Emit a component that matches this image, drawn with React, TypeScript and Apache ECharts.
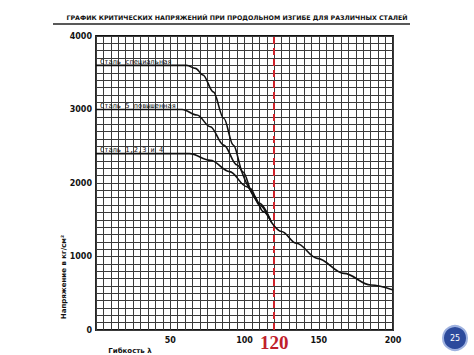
import React, { useEffect, useRef } from "react";
import * as echarts from "echarts";

const titleText = "ГРАФИК КРИТИЧЕСКИХ НАПРЯЖЕНИЙ ПРИ ПРОДОЛЬНОМ ИЗГИБЕ ДЛЯ РАЗЛИЧНЫХ СТАЛЕЙ";
const seriesNames = ["Сталь специальная", "Сталь 5 повышенная", "Сталь 1,2,3 и 4"];

const specialLambda = [0, 61, 67, 72, 79, 86, 92.5, 99, 106, 112.7, 118];
const specialSigma = [3600, 3600, 3560, 3470, 3240, 2880, 2515, 2150, 1835, 1610, 1470];

const steel5Lambda = [0, 58, 68, 77, 86, 95, 104, 110, 118];
const steel5Sigma = [3000, 3000, 2925, 2765, 2515, 2245, 1925, 1700, 1470];

const steel1234Lambda = [0, 63, 77, 90, 101.5, 110, 118];
const steel1234Sigma = [2400, 2400, 2310, 2155, 1950, 1725, 1470];

const tailLambda = [118, 125, 135, 149, 167, 185, 200];
const tailSigma = [1470, 1340, 1180, 975, 770, 612, 544];

const markedLambda = 120;
const xLabelValues = [50, 100, 150, 200];
const yLabelValues = [0, 1000, 2000, 3000, 4000];
const pageNumber = "25";

const zip = (a: number[], b: number[]) => a.map((v, i) => [v, b[i]]);

export default function App() {
  const ref = useRef<HTMLDivElement>(null);
  useEffect(() => {
    if (!ref.current) return;
    const chart = echarts.init(ref.current, undefined, { renderer: "svg" });
    const lineStyle = { color: "#111", width: 1.6 };
    const curves = [
      zip(specialLambda, specialSigma),
      zip(steel5Lambda, steel5Sigma),
      zip(steel1234Lambda, steel1234Sigma),
    ];
    const series: any[] = curves.map((d, i) => ({
      name: seriesNames[i],
      type: "line",
      data: d,
      smooth: 0.35,
      smoothMonotone: "x",
      showSymbol: false,
      symbol: "none",
      lineStyle,
      z: 5,
    }));
    series.push({
      name: "tail",
      type: "line",
      data: zip(tailLambda, tailSigma),
      smooth: 0.35,
      smoothMonotone: "x",
      symbol: "none",
      lineStyle,
      z: 5,
      markLine: {
        silent: true,
        symbol: "none",
        lineStyle: { color: "#d0222a", width: 2, type: [7, 4] },
        label: {
          show: true,
          position: "start",
          formatter: String(markedLambda),
          color: "#c0202a",
          fontSize: 19,
          fontWeight: "bold",
          fontFamily: "Liberation Serif",
          distance: 3,
        },
        data: [{ xAxis: markedLambda }],
      },
    });
    const labelTexts = seriesNames.map((n, i) => ({
      type: "text",
      left: 100,
      top: [58, 102, 146][i],
      z: 10,
      style: {
        text: n,
        fill: "#111",
        font: "7px 'DejaVu Sans Mono'",
      },
    }));
    chart.setOption({
      animation: false,
      backgroundColor: "#ffffff",
      title: {
        text: titleText,
        left: "center",
        top: 9,
        textStyle: {
          fontSize: 6.3,
          fontWeight: "bold",
          fontFamily: "DejaVu Sans",
          color: "#111",
        },
      },
      grid: {
        left: 96,
        right: 81,
        top: 36,
        bottom: 25,
        show: true,
        borderColor: "#111",
        borderWidth: 1.8,
        backgroundColor: "transparent",
      },
      xAxis: {
        type: "value",
        min: 0,
        max: 200,
        interval: 5,
        axisLine: { show: false },
        axisTick: { show: false },
        splitLine: { show: true, lineStyle: { color: "#3a3a3a", width: 1 } },
        axisLabel: {
          color: "#111",
          fontSize: 8,
          fontWeight: "bold",
          fontFamily: "DejaVu Sans",
          margin: 6,
          formatter: (v: number) => (xLabelValues.includes(v) ? String(v) : ""),
        },
      },
      yAxis: {
        type: "value",
        min: 0,
        max: 4000,
        interval: 100,
        axisLine: { show: false },
        axisTick: { show: false },
        splitLine: { show: true, lineStyle: { color: "#3a3a3a", width: 1 } },
        axisLabel: {
          color: "#111",
          fontSize: 8,
          fontWeight: "bold",
          fontFamily: "DejaVu Sans",
          margin: 4,
          formatter: (v: number) => (yLabelValues.includes(v) ? String(v) : ""),
        },
      },
      series,
      graphic: [
        {
          type: "line",
          shape: { x1: 53, y1: 24, x2: 410, y2: 24 },
          style: { stroke: "#222", lineWidth: 1.5 },
        },
        ...labelTexts,
        {
          type: "text",
          x: 64,
          y: 277,
          rotation: Math.PI / 2,
          style: {
            text: "Напряжение в кг/см²",
            fill: "#111",
            font: "bold 7px 'DejaVu Sans'",
            align: "center",
            verticalAlign: "middle",
          },
        },
        {
          type: "text",
          x: 130,
          y: 351,
          style: {
            text: "Гибкость λ",
            fill: "#111",
            font: "bold 7px 'DejaVu Sans'",
            align: "center",
            verticalAlign: "middle",
          },
        },
        {
          type: "circle",
          shape: { cx: 455, cy: 338, r: 12 },
          style: { fill: "#2c4a9c", stroke: "#9fb2e0", lineWidth: 2 },
        },
        {
          type: "text",
          x: 455,
          y: 338,
          style: {
            text: pageNumber,
            fill: "#ffffff",
            font: "8px 'DejaVu Sans'",
            align: "center",
            verticalAlign: "middle",
          },
        },
      ],
    });
    return () => chart.dispose();
  }, []);
  return (
    <div
      ref={ref}
      style={{ position: "fixed", left: 0, top: 0, width: 474, height: 355 }}
    />
  );
}
